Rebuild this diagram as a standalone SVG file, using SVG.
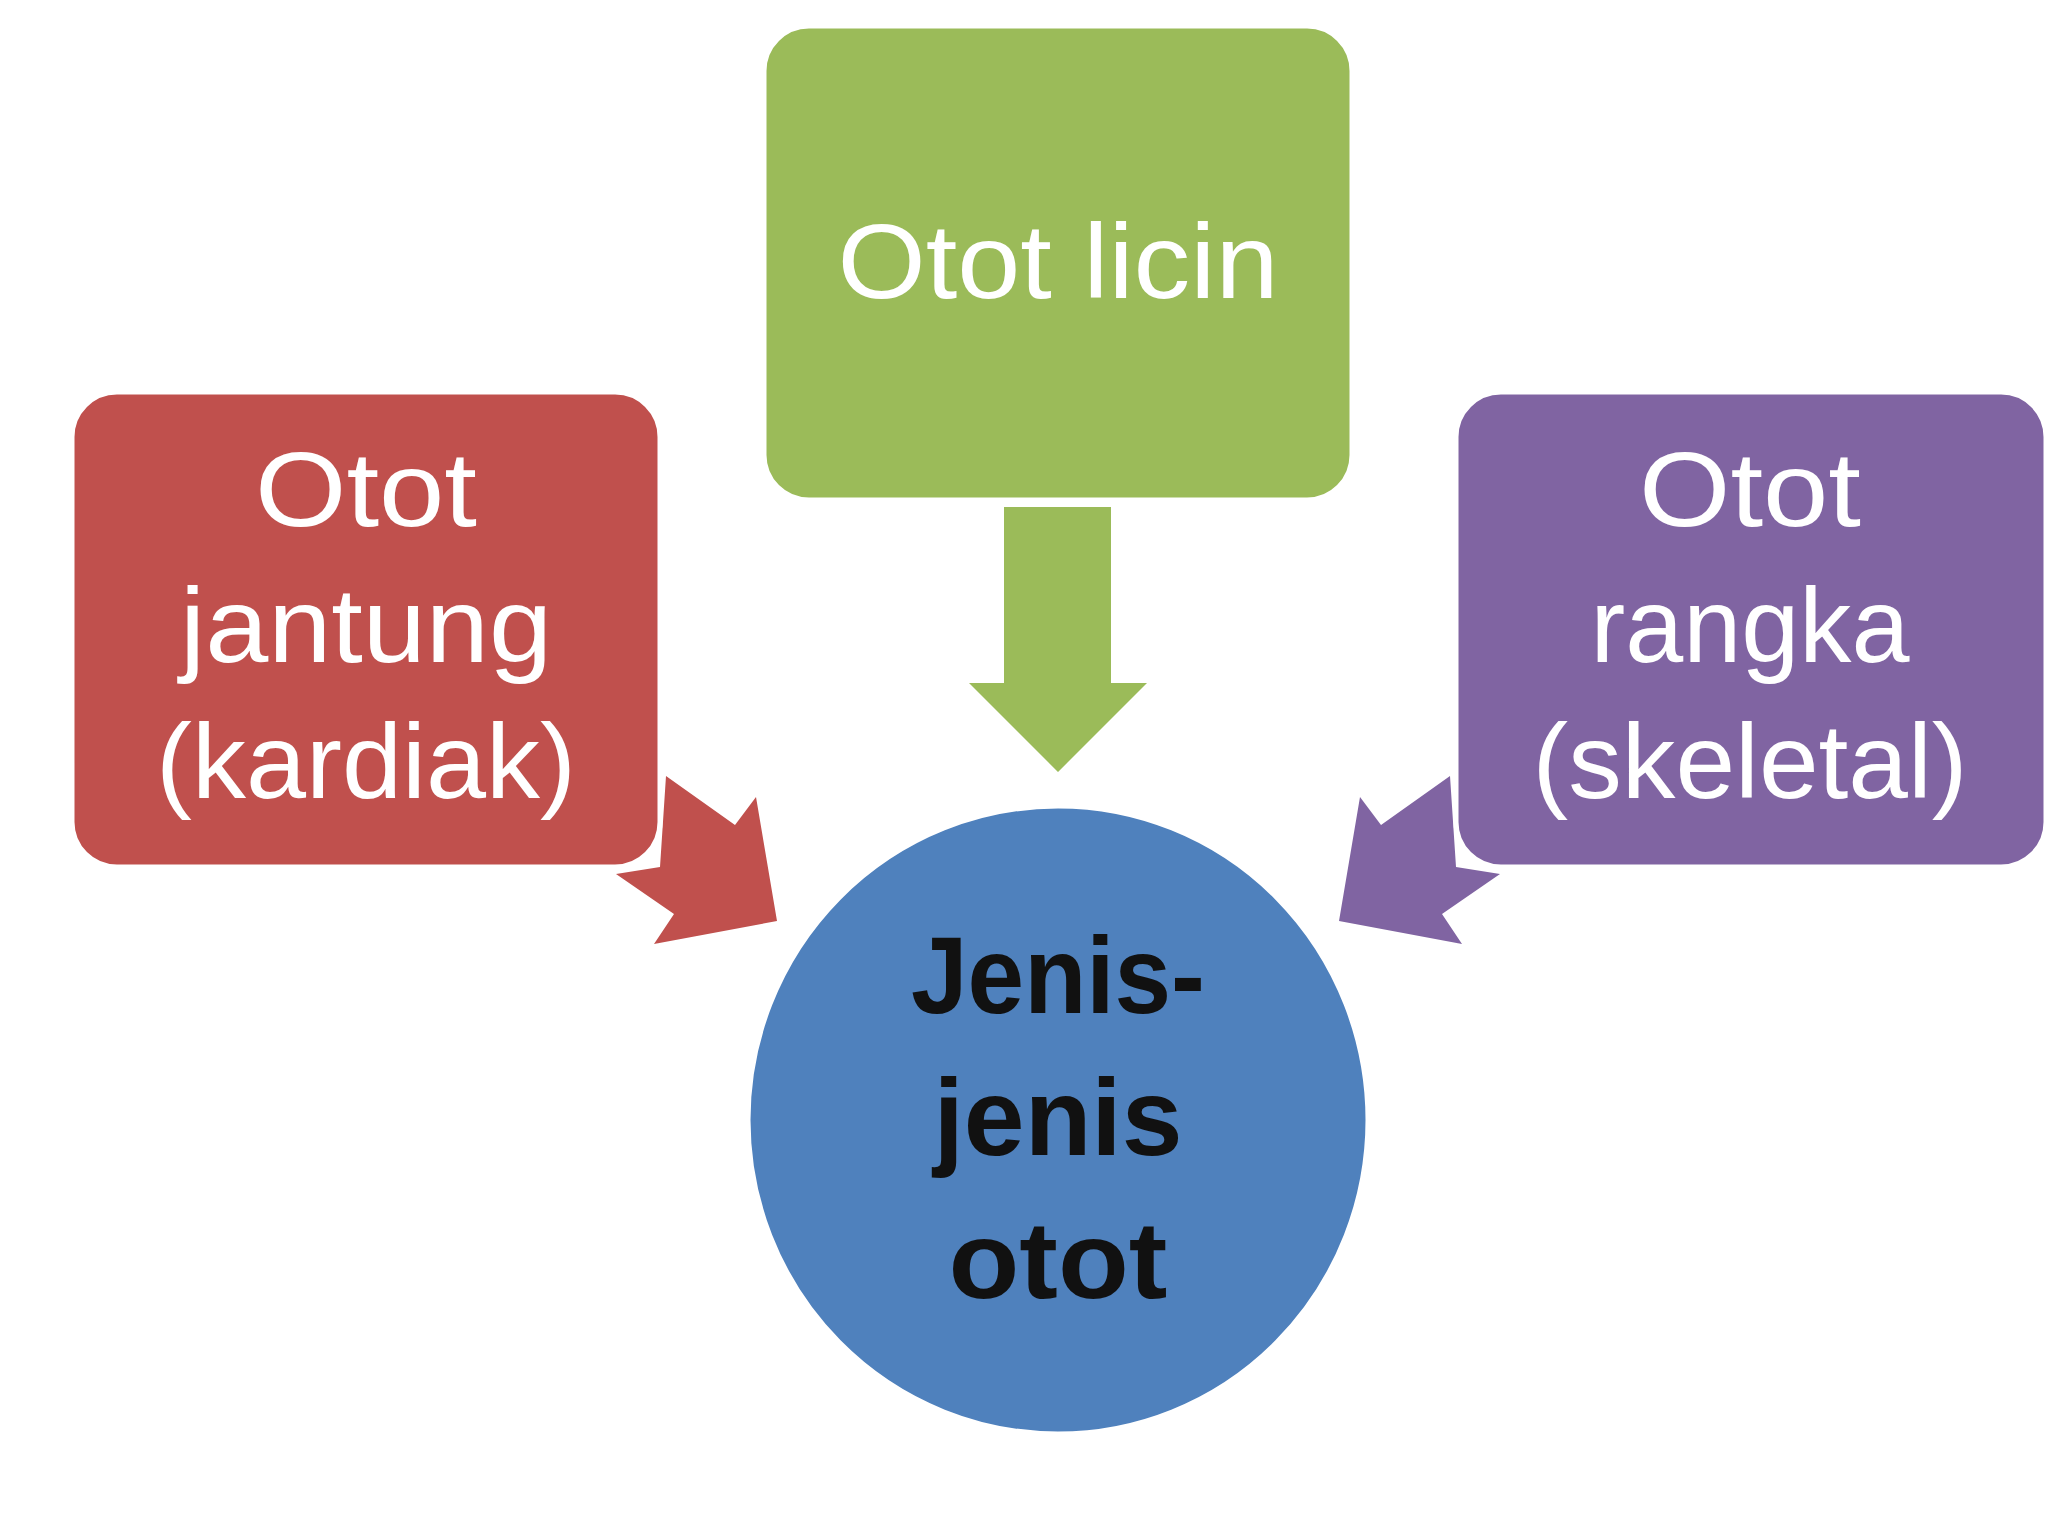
<svg xmlns="http://www.w3.org/2000/svg" width="2048" height="1536" viewBox="0 0 2048 1536">
<style>
.w{fill:#fff;font-family:"Liberation Sans",Arial,sans-serif;font-size:105px;text-anchor:middle}
.b{fill:#111;font-family:"Liberation Sans",Arial,sans-serif;font-size:110px;font-weight:bold;text-anchor:middle}
.box{stroke:#fff;stroke-width:5}
</style>
<rect width="2048" height="1536" fill="#fff"/>
<g id="connectors">
<polygon points="1004,507 1111,507 1111,683 1147,683 1058,772 969,683 1004,683" fill="#9bbb59"/>
<polygon points="666,776 735,825 756,797 777,921 654,944 674,914 616,874 660,867" fill="#c0504d"/>
<polygon points="1450,776 1381,825 1360,797 1339,921 1462,944 1442,914 1500,874 1456,867" fill="#8064a2"/>
</g>
<g id="n-licin">
<rect class="box" x="764" y="26" width="588" height="474" rx="45" fill="#9bbb59"/>
<text class="w" x="1058" y="298" textLength="441" lengthAdjust="spacingAndGlyphs">Otot licin</text>
</g>
<g id="n-jantung">
<rect class="box" x="72" y="392" width="588" height="475" rx="45" fill="#c0504d"/>
<text class="w" x="366" y="526" textLength="222" lengthAdjust="spacingAndGlyphs">Otot</text>
<text class="w" x="366" y="662" textLength="372" lengthAdjust="spacingAndGlyphs">jantung</text>
<text class="w" x="366" y="798" textLength="420" lengthAdjust="spacingAndGlyphs">(kardiak)</text>
</g>
<g id="n-rangka">
<rect class="box" x="1456" y="392" width="590" height="475" rx="45" fill="#8064a2"/>
<text class="w" x="1750" y="526" textLength="222" lengthAdjust="spacingAndGlyphs">Otot</text>
<text class="w" x="1750" y="662" textLength="319" lengthAdjust="spacingAndGlyphs">rangka</text>
<text class="w" x="1750" y="798" textLength="435" lengthAdjust="spacingAndGlyphs">(skeletal)</text>
</g>
<g id="n-center">
<ellipse cx="1058" cy="1120" rx="310" ry="314" fill="#4f81bd" stroke="#fff" stroke-width="5"/>
<text class="b" x="1058" y="1013" textLength="294" lengthAdjust="spacingAndGlyphs">Jenis-</text>
<text class="b" x="1058" y="1155" textLength="249" lengthAdjust="spacingAndGlyphs">jenis</text>
<text class="b" x="1058" y="1298" textLength="219" lengthAdjust="spacingAndGlyphs">otot</text>
</g>
</svg>
